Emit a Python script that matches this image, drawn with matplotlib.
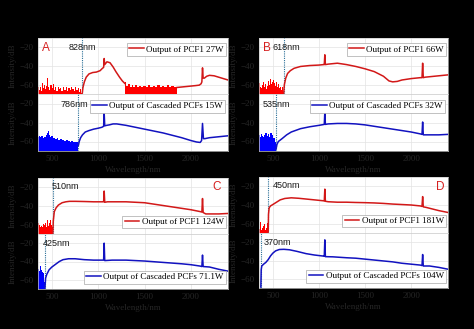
import matplotlib
matplotlib.use('Agg')
import matplotlib.pyplot as plt

# ---------------- data ----------------
x_range = (350, 2400)
y_range = (-70, -10)
x_ticks = [500, 1000, 1500, 2000]
y_ticks = [-60, -40, -20]
x_label = 'Wavelength/nm'
y_label = 'Intensity/dB'
panel_letters = ['A', 'B', 'C', 'D']

# Panel A, top (PCF1 27W)
a_top_name = 'Output of PCF1 27W'
a_top_cut = 828
a_top_noise_wl = [352, 365, 378, 390, 402, 410, 420, 432, 445, 458, 465, 478, 490, 502, 515, 528, 540, 555,
                  568, 580, 595, 610, 622, 640, 655, 668, 682, 700, 715, 728, 742, 758, 770, 785, 800, 812, 825]
a_top_noise_db = [-62, -66, -63, -67, -58, -64, -60, -65, -61, -53, -62, -66, -60, -64, -59, -66, -63, -67,
                  -62, -65, -64, -67, -63, -66, -62, -67, -64, -66, -63, -65, -67, -62, -66, -64, -68, -65, -69]
a_top_wl = [828, 835, 850, 870, 900, 940, 980, 1020, 1045, 1058, 1064, 1070, 1094, 1127, 1160, 1190, 1230,
            1260, 1290]
a_top_db = [-69, -63, -57, -52, -48.5, -47, -46.5, -45, -42.5, -41.5, -32, -38.5, -35.5, -36.5, -41, -46, -52,
            -56, -59]
a_top_band_wl = [1290, 1310, 1330, 1350, 1370, 1390, 1410, 1430, 1450, 1475, 1500, 1525, 1550, 1575, 1600,
                 1625, 1650, 1675, 1700, 1725, 1750, 1775, 1800, 1825, 1850]
a_top_band_db = [-57, -61, -59, -62, -60, -63, -60, -62, -61, -63, -61, -62, -60, -63, -61, -62, -60, -63,
                 -61, -62, -60, -62, -61, -62, -62]
a_top_tail_wl = [1850, 1900, 1950, 2000, 2050, 2090, 2110, 2118, 2125, 2132, 2145, 2170, 2200, 2250, 2300,
                 2350, 2400]
a_top_tail_db = [-63, -62.5, -62, -61.5, -61, -60.5, -59, -57, -42, -53, -53, -51, -50, -50.5, -52, -53.5, -55]

# Panel A, bottom (Cascaded 15W)
a_bot_name = 'Output of Cascaded PCFs 15W'
a_bot_cut = 786
a_bot_noise_wl = [350, 365, 380, 395, 410, 425, 440, 455, 462, 470, 485, 500, 520, 540, 560, 580, 600, 620,
                  640, 660, 680, 700, 720, 740, 760, 775, 786]
a_bot_noise_db = [-55, -54, -55, -54, -56, -55, -53, -51, -49, -53, -55, -54, -56, -57, -56, -58, -57, -58,
                  -59, -58, -59, -60, -59, -60, -60, -61, -61]
a_bot_wl = [786, 795, 810, 830, 860, 900, 950, 1000, 1040, 1058, 1064, 1070, 1090, 1120, 1160, 1200, 1300,
            1400, 1500, 1600, 1700, 1800, 1900, 2000, 2060, 2100, 2115, 2125, 2135, 2150, 2200, 2300, 2400]
a_bot_db = [-64, -60, -56, -53, -50, -48.5, -47, -46, -45, -44, -30, -43.5, -43, -42.5, -41.5, -41.5, -43,
            -45, -47, -49, -51, -53.5, -56, -59, -60.5, -61, -59, -41, -57, -57, -56, -55, -54]

# Panel B, top (PCF1 66W)
b_top_name = 'Output of PCF1 66W'
b_top_cut = 618
b_top_noise_wl = [352, 362, 372, 382, 392, 402, 412, 422, 432, 442, 452, 462, 472, 482, 492, 502, 512, 522,
                  532, 542, 552, 562, 572, 582, 592, 602, 612, 618]
b_top_noise_db = [-58, -62, -56, -64, -60, -57, -63, -59, -65, -61, -56, -60, -54, -59, -57, -62, -55, -58,
                  -61, -57, -63, -59, -64, -62, -66, -63, -65, -69]
b_top_wl = [618, 625, 640, 660, 690, 730, 800, 900, 1000, 1050, 1058, 1064, 1070, 1100, 1200, 1300, 1400,
            1500, 1600, 1700, 1760, 1800, 1850, 1900, 2000, 2100, 2118, 2125, 2132, 2150, 2200, 2300, 2400]
b_top_db = [-69, -60, -53, -48, -45, -42.5, -40.5, -39.5, -39, -38.5, -38.5, -28, -38.5, -38, -37, -38.5,
            -40.5, -43, -46, -51, -56, -57, -56.5, -55, -53.5, -52.5, -52.5, -37, -52.5, -52, -51.5, -50.5, -49.5]

# Panel B, bottom (Cascaded 32W)
b_bot_name = 'Output of Cascaded PCFs 32W'
b_bot_cut = 535
b_bot_noise_wl = [350, 362, 375, 388, 400, 412, 425, 438, 450, 462, 475, 488, 500, 512, 525, 535]
b_bot_noise_db = [-53, -55, -52, -54, -55, -53, -51, -54, -52, -55, -51, -51, -53, -56, -60, -65]
b_bot_wl = [535, 545, 560, 580, 600, 650, 700, 800, 900, 1000, 1058, 1064, 1070, 1100, 1200, 1300, 1400,
            1500, 1600, 1700, 1800, 1900, 2000, 2100, 2118, 2125, 2132, 2150, 2200, 2300, 2400]
b_bot_db = [-68, -63, -60, -58.5, -57, -53, -50, -46.5, -44.5, -43, -42, -29, -42, -41.5, -41, -41, -41.5,
            -42.5, -44, -45.5, -47, -48.5, -50, -52, -52.5, -39.5, -53, -53, -53, -53, -52.5]

# Panel C, top (PCF1 124W)
c_top_name = 'Output of PCF1 124W'
c_top_cut = 510
c_top_noise_wl = [352, 360, 368, 376, 384, 392, 400, 408, 416, 424, 432, 440, 448, 456, 464, 472, 480, 488,
                  496, 504, 510]
c_top_noise_db = [-58, -63, -60, -62, -61, -57, -62, -59, -63, -60, -58, -62, -60, -55, -61, -58, -62, -55,
                  -60, -63, -69]
c_top_wl = [510, 515, 526, 545, 570, 610, 650, 690, 750, 850, 950, 1050, 1058, 1064, 1070, 1100, 1200, 1300,
            1400, 1500, 1600, 1700, 1800, 1900, 2000, 2100, 2118, 2125, 2132, 2160, 2200, 2300, 2400]
c_top_db = [-69, -56, -46, -42, -39, -36.5, -35.5, -35, -35, -35.2, -35.5, -35.5, -35.5, -24, -36, -35.5,
            -35.5, -35.5, -36, -36.5, -38, -39.5, -41, -42.5, -44, -46, -46.5, -32, -47, -48.5, -48.5, -48.5, -48]

# Panel C, bottom (Cascaded 71.1W)
c_bot_name = 'Output of Cascaded PCFs 71.1W'
c_bot_cut = 425
c_bot_noise_wl = [350, 356, 362, 368, 374, 380, 386, 392, 398, 404, 410, 416, 422, 425]
c_bot_noise_db = [-52, -48, -54, -50, -45, -53, -49, -55, -51, -57, -53, -59, -62, -68]
c_bot_wl = [425, 432, 445, 470, 500, 540, 580, 620, 680, 750, 850, 950, 1058, 1064, 1070, 1150, 1300, 1500,
            1700, 1900, 2000, 2100, 2118, 2125, 2132, 2200, 2300, 2400]
c_bot_db = [-69, -58, -54, -49, -46, -43, -40, -38, -37, -37, -38, -38.5, -38.5, -20, -39, -38.5, -38.5,
            -39.5, -41, -42.5, -43.5, -45, -45.5, -33, -45.5, -46, -48.5, -50.5]

# Panel D, top (PCF1 181W)
d_top_name = 'Output of PCF1 181W'
d_top_cut = 450
d_top_noise_wl = [352, 358, 364, 370, 376, 382, 388, 394, 400, 406, 412, 418, 424, 430, 436, 442, 448]
d_top_noise_db = [-62, -66, -58, -64, -67, -61, -65, -68, -63, -66, -60, -67, -69, -65, -68, -59, -69]
d_top_wl = [450, 453, 460, 475, 500, 540, 580, 630, 700, 780, 850, 950, 1050, 1058, 1064, 1070, 1100, 1200,
            1300, 1400, 1500, 1600, 1700, 1800, 1900, 2000, 2100, 2118, 2125, 2132, 2160, 2200, 2300, 2400]
d_top_db = [-69, -50, -43, -41, -39.5, -37, -34.5, -33, -32.3, -32.8, -33.5, -34.5, -35.5, -35.7, -23, -36,
            -36.5, -37, -37, -37.3, -37.5, -37.8, -38.3, -39, -39.5, -40, -41, -41.5, -31, -42, -42.5, -43.5,
            -46, -48]

# Panel D, bottom (Cascaded 104W)
d_bot_name = 'Output of Cascaded PCFs 104W'
d_bot_cut = 370
d_bot_wl = [370, 374, 380, 400, 425, 450, 475, 500, 530, 570, 620, 680, 760, 860, 950, 1050, 1058, 1064,
            1070, 1150, 1300, 1400, 1500, 1600, 1700, 1800, 1900, 2000, 2100, 2118, 2125, 2132, 2200, 2300, 2400]
d_bot_db = [-69, -50, -46, -44, -42, -39, -35, -32, -29.5, -28, -27.8, -28.3, -30, -32.5, -34, -35.2, -35.4,
            -17.5, -35.8, -36, -37, -37.5, -38.5, -39.5, -40.5, -41.5, -43, -44, -45, -45.5, -33.5, -46, -46,
            -47.5, -49.5]

# ---------------- style ----------------
RED = '#d21818'
RED_N = '#ff0000'
BLUE = '#1212c0'
BLUE_N = '#0000ff'
DOT = '#2a6f97'
TXT = '#262626'
W, H = 474, 329

fig = plt.figure(figsize=(W / 100, H / 100), dpi=100, facecolor='black')


def make_ax(left, right, top, bottom):
    ax = fig.add_axes([left / W, 1 - bottom / H, (right - left) / W, (bottom - top) / H])
    ax.set_facecolor('white')
    ax.set_xlim(*x_range)
    ax.set_ylim(*y_range)
    ax.set_xticks(x_ticks)
    ax.set_yticks(y_ticks)
    ax.grid(True, color='#e3e3e3', linewidth=0.5)
    ax.set_axisbelow(True)
    ax.tick_params(length=0, labelsize=6.5, colors=TXT, pad=3)
    for lab in ax.get_xticklabels() + ax.get_yticklabels():
        lab.set_family('Liberation Serif')
    for s in ax.spines.values():
        s.set_color('#c8c8c8')
        s.set_linewidth(0.5)
    ax.set_ylabel(y_label, family='Liberation Serif', fontsize=6.5, color=TXT, labelpad=2)
    return ax


def legend(ax, color, name, loc, anchor):
    h, = ax.plot([], [], color=color, lw=1.1)
    lg = ax.legend([h], [name], loc=loc, bbox_to_anchor=anchor, fancybox=False, framealpha=1,
                   prop={'family': 'Liberation Serif', 'size': 6.5}, handlelength=1.6, handletextpad=0.3,
                   borderpad=0.25, borderaxespad=0)
    lg.get_frame().set_edgecolor('#a8a8a8')
    lg.get_frame().set_linewidth(0.5)


def noise(ax, wl, db, color):
    ax.fill_between(wl, db, y_range[0], step='mid', color=color, lw=0, zorder=2)


def cut(ax, wl, text, tx, ha, ty=0.83):
    ax.axvline(wl, color=DOT, ls=(0, (1, 1)), lw=0.8, zorder=3)
    ax.text(tx, ty, text, transform=ax.get_xaxis_transform(), ha=ha, va='center',
            family='Liberation Sans', fontsize=6.5, color='#1a1a1a', zorder=5)


def letter(ax, s, x, y):
    ax.text(x, y, s, transform=ax.transAxes, ha='center', va='center', family='Liberation Sans',
            fontsize=8.5, color='#d62020', zorder=6)


# ---- Panel A ----
ax = make_ax(38, 228, 38, 94)
ax.tick_params(labelbottom=False)
noise(ax, a_top_noise_wl, a_top_noise_db, RED_N)
ax.plot(a_top_wl, a_top_db, color=RED, lw=1.1, zorder=4)
noise(ax, a_top_band_wl, a_top_band_db, RED_N)
ax.plot(a_top_tail_wl, a_top_tail_db, color=RED, lw=1.1, zorder=4)
cut(ax, a_top_cut, '%dnm' % a_top_cut, a_top_cut, 'center')
legend(ax, RED, a_top_name, 'upper right', (0.99, 0.91))
letter(ax, panel_letters[0], 0.042, 0.82)

ax = make_ax(38, 228, 94, 151)
noise(ax, a_bot_noise_wl, a_bot_noise_db, BLUE_N)
ax.plot(a_bot_wl, a_bot_db, color=BLUE, lw=1.1, zorder=4)
cut(ax, a_bot_cut, '%dnm' % a_bot_cut, a_bot_cut - 40, 'center', 0.82)
legend(ax, BLUE, a_bot_name, 'upper right', (0.985, 0.9))
ax.set_xlabel(x_label, family='Liberation Serif', fontsize=6.5, color=TXT, labelpad=2)

# ---- Panel B ----
ax = make_ax(259, 448, 38, 94)
ax.tick_params(labelbottom=False)
noise(ax, b_top_noise_wl, b_top_noise_db, RED_N)
ax.plot(b_top_wl, b_top_db, color=RED, lw=1.1, zorder=4)
cut(ax, b_top_cut, '%dnm' % b_top_cut, b_top_cut + 25, 'center')
legend(ax, RED, b_top_name, 'upper right', (0.99, 0.91))
letter(ax, panel_letters[1], 0.042, 0.82)

ax = make_ax(259, 448, 94, 151)
noise(ax, b_bot_noise_wl, b_bot_noise_db, BLUE_N)
ax.plot(b_bot_wl, b_bot_db, color=BLUE, lw=1.1, zorder=4)
cut(ax, b_bot_cut, '%dnm' % b_bot_cut, b_bot_cut + 5, 'center', 0.82)
legend(ax, BLUE, b_bot_name, 'upper right', (0.985, 0.9))
ax.set_xlabel(x_label, family='Liberation Serif', fontsize=6.5, color=TXT, labelpad=2)

# ---- Panel C ----
ax = make_ax(38, 228, 178, 234)
ax.tick_params(labelbottom=False)
noise(ax, c_top_noise_wl, c_top_noise_db, RED_N)
ax.plot(c_top_wl, c_top_db, color=RED, lw=1.1, zorder=4)
cut(ax, c_top_cut, '%dnm' % c_top_cut, c_top_cut - 12, 'left', 0.845)
legend(ax, RED, c_top_name, 'lower right', (0.99, 0.1))
letter(ax, panel_letters[2], 0.94, 0.845)

ax = make_ax(38, 228, 234, 289)
noise(ax, c_bot_noise_wl, c_bot_noise_db, BLUE_N)
ax.plot(c_bot_wl, c_bot_db, color=BLUE, lw=1.1, zorder=4)
cut(ax, c_bot_cut, '%dnm' % c_bot_cut, c_bot_cut - 24, 'left', 0.83)
legend(ax, BLUE, c_bot_name, 'lower right', (0.99, 0.1))
ax.set_xlabel(x_label, family='Liberation Serif', fontsize=6.5, color=TXT, labelpad=2)

# ---- Panel D ----
ax = make_ax(259, 448, 177, 233)
ax.tick_params(labelbottom=False)
noise(ax, d_top_noise_wl, d_top_noise_db, RED_N)
ax.plot(d_top_wl, d_top_db, color=RED, lw=1.1, zorder=4)
cut(ax, d_top_cut, '%dnm' % d_top_cut, d_top_cut + 45, 'left', 0.84)
legend(ax, RED, d_top_name, 'lower right', (0.99, 0.1))
letter(ax, panel_letters[3], 0.96, 0.82)

ax = make_ax(259, 448, 233, 288)
ax.plot(d_bot_wl, d_bot_db, color=BLUE, lw=1.1, zorder=4)
cut(ax, d_bot_cut, '%dnm' % d_bot_cut, d_bot_cut + 30, 'left', 0.82)
legend(ax, BLUE, d_bot_name, 'lower right', (0.99, 0.1))
ax.set_xlabel(x_label, family='Liberation Serif', fontsize=6.5, color=TXT, labelpad=2)

fig.savefig('out.png', dpi=100, facecolor='black')
